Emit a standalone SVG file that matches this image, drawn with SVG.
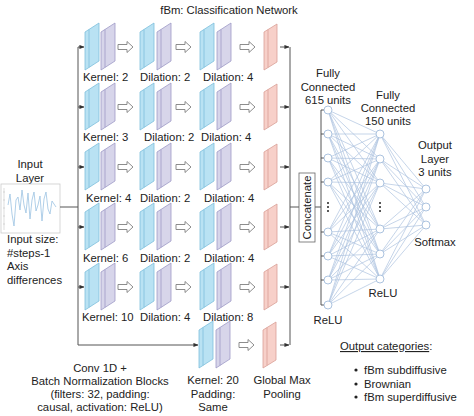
<svg xmlns="http://www.w3.org/2000/svg" xmlns:xlink="http://www.w3.org/1999/xlink" width="474" height="416" viewBox="0 0 474 416">
<style>
text{font-family:"Liberation Sans",Arial,sans-serif;font-size:11.3px;fill:#222}
.c{text-anchor:middle}
.bus{stroke:#555;stroke-width:1;fill:none}
.ha{fill:#fff;stroke:#808080;stroke-width:0.9}
.nn{stroke:#adc3df;stroke-width:0.7;fill:none}
.node{fill:#fff;stroke:#a3bcdb;stroke-width:0.9}
</style>
<defs>
<marker id="ah" viewBox="0 0 6 6" refX="5.5" refY="3" markerWidth="5" markerHeight="5" orient="auto"><path d="M0,0.5L6,3L0,5.5z" fill="#333"/></marker>
<g id="sb"><polygon points="0,9 14,0 14,38 0,47" fill="#b9e2f3" stroke="#7dbfdc" stroke-width="0.8"/><path d="M4,6.5V44.5" stroke="#7dbfdc" stroke-width="0.8"/></g>
<g id="sp"><polygon points="0,9 14,0 14,38 0,47" fill="#d7d5ea" stroke="#9e9bc6" stroke-width="0.8"/><path d="M4,6.5V44.5" stroke="#9e9bc6" stroke-width="0.8"/></g>
<g id="sr"><polygon points="0,8 13,0 13,38 0,46" fill="#f7d0c9" stroke="#d9a097" stroke-width="0.8"/><path d="M4,5.5V43.5" stroke="#d9a097" stroke-width="0.8"/></g>
<path id="ha" class="ha" d="M0,-2.5H9V-5.5L15,0L9,5.5V2.5H0Z"/>
</defs>

<text class="c" x="229" y="14">fBm: Classification Network</text>

<g id="input">
<text class="c" x="30" y="168">Input</text>
<text class="c" x="30" y="182">Layer</text>
<rect x="1" y="184" width="59" height="49" fill="#fff" stroke="#ccc" stroke-width="0.8"/>
<path d="M4,188V230M3,192H5M3,200H5M3,208H5M3,216H5M3,224H5" stroke="#bbb" stroke-width="0.5"/>
<polyline fill="none" stroke="#9cc3e2" stroke-width="0.8" points="8,205 10,194 12,214 14,226 16,200 18,197 20,210 22,190 24,205 26,213 28,193 30,219 32,200 34,192 36,211 38,205 40,196 42,221 44,199 46,192 48,209 50,214 52,201 54,204 56,207"/>
<text x="7" y="243">Input size:</text>
<text x="7" y="257">#steps-1</text>
<text x="7" y="270">Axis</text>
<text x="7" y="284">differences</text>
</g>

<g id="connectors">
<path class="bus" d="M60,207H78M78,47V345M290,47V345M290,207H299M315,207H321M321,110V305"/>
<path class="bus" d="M78,47H84" marker-end="url(#ah)"/>
<path class="bus" d="M78,107H84" marker-end="url(#ah)"/>
<path class="bus" d="M78,167H84" marker-end="url(#ah)"/>
<path class="bus" d="M78,227H84" marker-end="url(#ah)"/>
<path class="bus" d="M78,287H84" marker-end="url(#ah)"/>
<path class="bus" d="M78,345H198" marker-end="url(#ah)"/>
<path class="bus" d="M280,47H289" marker-end="url(#ah)"/>
<path class="bus" d="M280,107H289" marker-end="url(#ah)"/>
<path class="bus" d="M280,167H289" marker-end="url(#ah)"/>
<path class="bus" d="M280,227H289" marker-end="url(#ah)"/>
<path class="bus" d="M280,287H289" marker-end="url(#ah)"/>
<path class="bus" d="M280,345H289" marker-end="url(#ah)"/>
<path class="bus" d="M321,110H324M321,134H324M321,158H324M321,182H324M321,232H324M321,256H324M321,280H324M321,305H324"/>
<path class="nn" d="M328,110L380,134M328,110L380,159M328,110L380,183M328,110L380,229M328,110L380,254M328,110L380,279M328,134L380,134M328,134L380,159M328,134L380,183M328,134L380,229M328,134L380,254M328,134L380,279M328,158L380,134M328,158L380,159M328,158L380,183M328,158L380,229M328,158L380,254M328,158L380,279M328,182L380,134M328,182L380,159M328,182L380,183M328,182L380,229M328,182L380,254M328,182L380,279M328,232L380,134M328,232L380,159M328,232L380,183M328,232L380,229M328,232L380,254M328,232L380,279M328,256L380,134M328,256L380,159M328,256L380,183M328,256L380,229M328,256L380,254M328,256L380,279M328,280L380,134M328,280L380,159M328,280L380,183M328,280L380,229M328,280L380,254M328,280L380,279M328,305L380,134M328,305L380,159M328,305L380,183M328,305L380,229M328,305L380,254M328,305L380,279"/>
<path class="nn" d="M380,134L426,189M380,134L426,207M380,134L426,225M380,159L426,189M380,159L426,207M380,159L426,225M380,183L426,189M380,183L426,207M380,183L426,225M380,229L426,189M380,229L426,207M380,229L426,225M380,254L426,189M380,254L426,207M380,254L426,225M380,279L426,189M380,279L426,207M380,279L426,225"/>
</g>

<g id="row1">
<use xlink:href="#sb" x="85" y="23"/><use xlink:href="#sp" x="101" y="23"/><use xlink:href="#ha" x="118" y="47"/>
<use xlink:href="#sb" x="140" y="23"/><use xlink:href="#sp" x="157" y="23"/><use xlink:href="#ha" x="176" y="47"/>
<use xlink:href="#sb" x="200" y="23"/><use xlink:href="#sp" x="217" y="23"/><use xlink:href="#ha" x="240" y="47"/>
<use xlink:href="#sr" x="264" y="24"/>
<text x="83" y="81">Kernel: 2</text><text x="140" y="81">Dilation: 2</text><text x="203" y="81">Dilation: 4</text>
</g>
<g id="row2">
<use xlink:href="#sb" x="85" y="83"/><use xlink:href="#sp" x="101" y="83"/><use xlink:href="#ha" x="118" y="107"/>
<use xlink:href="#sb" x="140" y="83"/><use xlink:href="#sp" x="157" y="83"/><use xlink:href="#ha" x="176" y="107"/>
<use xlink:href="#sb" x="200" y="83"/><use xlink:href="#sp" x="217" y="83"/><use xlink:href="#ha" x="240" y="107"/>
<use xlink:href="#sr" x="264" y="84"/>
<text x="83" y="141">Kernel: 3</text><text x="144" y="141">Dilation: 2</text><text x="201" y="141">Dilation: 4</text>
</g>
<g id="row3">
<use xlink:href="#sb" x="85" y="143"/><use xlink:href="#sp" x="101" y="143"/><use xlink:href="#ha" x="118" y="167"/>
<use xlink:href="#sb" x="140" y="143"/><use xlink:href="#sp" x="157" y="143"/><use xlink:href="#ha" x="176" y="167"/>
<use xlink:href="#sb" x="200" y="143"/><use xlink:href="#sp" x="217" y="143"/><use xlink:href="#ha" x="240" y="167"/>
<use xlink:href="#sr" x="264" y="144"/>
<text x="86" y="202">Kernel: 4</text><text x="140" y="202">Dilation: 2</text><text x="204" y="202">Dilation: 4</text>
</g>
<g id="row4">
<use xlink:href="#sb" x="85" y="203"/><use xlink:href="#sp" x="101" y="203"/><use xlink:href="#ha" x="118" y="227"/>
<use xlink:href="#sb" x="140" y="203"/><use xlink:href="#sp" x="157" y="203"/><use xlink:href="#ha" x="176" y="227"/>
<use xlink:href="#sb" x="200" y="203"/><use xlink:href="#sp" x="217" y="203"/><use xlink:href="#ha" x="240" y="227"/>
<use xlink:href="#sr" x="264" y="204"/>
<text x="83" y="262">Kernel: 6</text><text x="140" y="262">Dilation: 2</text><text x="204" y="262">Dilation: 4</text>
</g>
<g id="row5">
<use xlink:href="#sb" x="85" y="263"/><use xlink:href="#sp" x="101" y="263"/><use xlink:href="#ha" x="118" y="287"/>
<use xlink:href="#sb" x="140" y="263"/><use xlink:href="#sp" x="157" y="263"/><use xlink:href="#ha" x="176" y="287"/>
<use xlink:href="#sb" x="200" y="263"/><use xlink:href="#sp" x="217" y="263"/><use xlink:href="#ha" x="240" y="287"/>
<use xlink:href="#sr" x="264" y="264"/>
<text x="82" y="321">Kernel: 10</text><text x="140" y="321">Dilation: 4</text><text x="203" y="321">Dilation: 8</text>
</g>
<g id="row6">
<use xlink:href="#sb" x="199" y="321"/><use xlink:href="#sp" x="216" y="321"/><use xlink:href="#ha" x="239" y="345"/>
<use xlink:href="#sr" x="263" y="322"/>
<text class="c" x="213" y="384">Kernel: 20</text>
<text class="c" x="213" y="398">Padding:</text>
<text class="c" x="213" y="411">Same</text>
</g>

<g id="conv-label">
<text class="c" x="100" y="372">Conv 1D +</text>
<text class="c" x="100" y="385">Batch Normalization Blocks</text>
<text class="c" x="100" y="398">(filters: 32, padding:</text>
<text class="c" x="100" y="411">causal, activation: ReLU)</text>
</g>
<g id="pool-label">
<text class="c" x="282" y="384">Global Max</text>
<text class="c" x="282" y="398">Pooling</text>
</g>

<g id="concatenate">
<rect x="299" y="173" width="16" height="69" fill="#fff" stroke="#666" stroke-width="0.8"/>
<text class="c" transform="translate(311,207.5) rotate(-90)">Concatenate</text>
</g>

<g id="fc615">
<text class="c" x="328" y="77">Fully</text>
<text class="c" x="328" y="91">Connected</text>
<text class="c" x="328" y="104">615 units</text>
<circle class="node" cx="328" cy="110" r="4"/><circle class="node" cx="328" cy="134" r="4"/><circle class="node" cx="328" cy="158" r="4"/><circle class="node" cx="328" cy="182" r="4"/>
<circle class="node" cx="328" cy="232" r="4"/><circle class="node" cx="328" cy="256" r="4"/><circle class="node" cx="328" cy="280" r="4"/><circle class="node" cx="328" cy="305" r="4"/>
<circle cx="328" cy="203" r="1" fill="#222"/><circle cx="328" cy="207" r="1" fill="#222"/><circle cx="328" cy="211" r="1" fill="#222"/>
<text class="c" x="328" y="324">ReLU</text>
</g>
<g id="fc150">
<text class="c" x="388" y="99">Fully</text>
<text class="c" x="388" y="112">Connected</text>
<text class="c" x="388" y="125">150 units</text>
<circle class="node" cx="380" cy="134" r="4"/><circle class="node" cx="380" cy="159" r="4"/><circle class="node" cx="380" cy="183" r="4"/>
<circle class="node" cx="380" cy="229" r="4"/><circle class="node" cx="380" cy="254" r="4"/><circle class="node" cx="380" cy="279" r="4"/>
<circle cx="380" cy="203" r="1" fill="#222"/><circle cx="380" cy="207" r="1" fill="#222"/><circle cx="380" cy="211" r="1" fill="#222"/>
<text class="c" x="383" y="297">ReLU</text>
</g>
<g id="output">
<text class="c" x="435" y="149">Output</text>
<text class="c" x="435" y="163">Layer</text>
<text class="c" x="435" y="176">3 units</text>
<circle class="node" cx="426" cy="189" r="4"/><circle class="node" cx="426" cy="207" r="4"/><circle class="node" cx="426" cy="225" r="4"/>
<text class="c" x="435" y="246">Softmax</text>
</g>

<g id="categories">
<text x="340" y="350"><tspan text-decoration="underline">Output categories</tspan>:</text>
<circle cx="356" cy="370" r="1.6" fill="#222"/><text x="364" y="374">fBm subdiffusive</text>
<circle cx="356" cy="384" r="1.6" fill="#222"/><text x="364" y="388">Brownian</text>
<circle cx="356" cy="397" r="1.6" fill="#222"/><text x="364" y="401">fBm superdiffusive</text>
</g>
</svg>
